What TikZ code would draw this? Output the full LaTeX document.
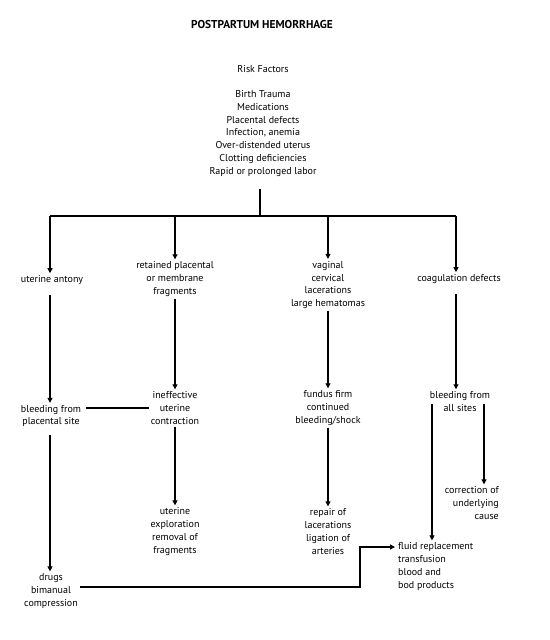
\documentclass[tikz,border=0pt]{standalone}
\usepackage{fontspec}
\setmainfont{PT Sans}
\usepackage{tikz}
\usetikzlibrary{arrows.meta}

\begin{document}
\begin{tikzpicture}[
  x=1pt, y=-1pt,
  txt/.style={align=center, inner sep=2pt, font=\fontsize{10}{12.9}\selectfont},
  line/.style={line width=1.1pt},
  flow/.style={line, -{Triangle[width=5pt,length=5pt]}}
]
\useasboundingbox (0,0) rectangle (549,640);

\node[txt, font=\fontsize{11.4}{13}\selectfont\bfseries] (title) at (262,25) {POSTPARTUM HEMORRHAGE};
\node[txt] (riskhead) at (263,69) {Risk Factors};
\node[txt] (risk) at (263,133.5) {Birth Trauma\\Medications\\Placental defects\\Infection, anemia\\Over-distended uterus\\Clotting deficiencies\\Rapid or prolonged labor};

% branch bar
\coordinate (split) at (260,216);
\coordinate (b1) at (50,216);
\coordinate (b2) at (175,216);
\coordinate (b3) at (328,216);
\coordinate (b4) at (456,216);

% causes
\node[txt] (antony) at (52,280) {uterine antony};
\node[txt] (retained) at (175,279) {retained placental\\or membrane\\fragments};
\node[txt] (vaginal) at (328,285) {vaginal\\cervical\\lacerations\\large hematomas};
\node[txt] (coag) at (459,279) {coagulation defects};

% signs
\node[txt] (placental) at (51,416) {bleeding from\\placental site};
\node[txt] (ineffective) at (175,408) {ineffective\\uterine\\contraction};
\node[txt] (fundus) at (328,408) {fundus firm\\continued\\bleeding/shock};
\node[txt] (allsites) at (460,401.5) {bleeding from\\all sites};

% treatment
\node[txt] (drugs) at (51,591) {drugs\\bimanual\\compression};
\node[txt] (explore) at (175,531.5) {uterine\\exploration\\removal of\\fragments};
\node[txt] (repair) at (328,531.5) {repair of\\lacerations\\ligation of\\arteries};
\node[txt, align=right, anchor=east] (correction) at (501,503) {correction of\\underlying\\cause};
\node[txt, align=left, anchor=west] (fluid) at (396,566.5) {fluid replacement\\transfusion\\blood and\\bod products};
\coordinate (bend) at (360,0);
\coordinate (feedL) at (432,0);
\coordinate (feedR) at (484,0);

\draw[line] ([yshift=-10pt]risk.south -| split) -- (split);
\draw[line] (b1) -- (b4);
\draw[flow] (b1) -- (b1 |- antony.north);
\draw[flow] (b2) -- (retained.north -| b2);
\draw[flow] (b3) -- (vaginal.north -| b3);
\draw[flow] (b4) -- (b4 |- coag.north);

\draw[flow] ([yshift=-8pt]antony.south -| b1) -- (b1 |- placental.north);
\draw[flow] (retained.south) -- (ineffective.north);
\draw[flow] (vaginal.south) -- (fundus.north);
\draw[flow] ([yshift=-8pt]coag.south -| b4) -- (b4 |- allsites.north);

\draw[line] (ineffective.west) -- ([xshift=3pt]ineffective.west -| placental.east);

\draw[flow] ([yshift=-6pt]placental.south -| b1) -- (b1 |- drugs.north);
\draw[flow] (ineffective.south) -- (explore.north);
\draw[flow] (fundus.south) -- (repair.north);
\draw[flow] ([yshift=-2.5pt]allsites.west -| feedL) -- (feedL |- fluid.north);
\draw[flow] ([yshift=-2.5pt]allsites.east -| feedR) -- (feedR |- correction.north);

\draw[flow] ([yshift=4pt]drugs.east) -- ([yshift=4pt]drugs.east -| bend) |- ([yshift=19.5pt,xshift=-1pt]fluid.west);
\end{tikzpicture}
\end{document}
